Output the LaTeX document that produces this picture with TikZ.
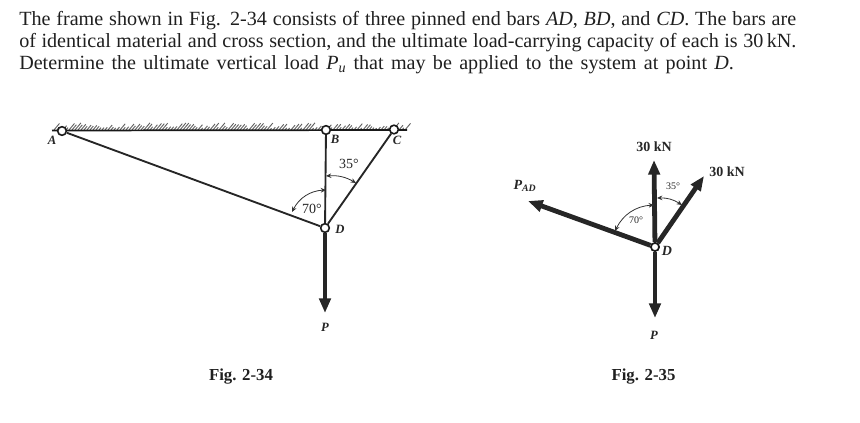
\documentclass[tikz,border=0pt]{standalone}
\usepackage{fontspec}
\setmainfont{Liberation Serif}
\usetikzlibrary{arrows.meta}
\tikzset{
  txt/.style={anchor=base west,inner sep=0pt,text=black!88,font=\fontsize{15.1}{17}\selectfont},
  lbl/.style={inner sep=0pt,text=black!85,font=\fontsize{10.5}{12}\selectfont},
  ital/.style={inner sep=0pt,text=black!85,font=\itshape\bfseries\fontsize{9.5}{11}\selectfont},
  kn/.style={inner sep=0pt,text=black!85,font=\bfseries\fontsize{10.5}{12}\selectfont},
  small/.style={inner sep=0pt,text=black!85,font=\fontsize{7.5}{9}\selectfont},
  figlbl/.style={inner sep=0pt,text=black!88,font=\bfseries\fontsize{12.6}{14}\selectfont},
  pin/.style={circle,draw=black!90,fill=white,line width=1.2pt,minimum size=6.5pt,inner sep=0pt},
  bar/.style={draw=black!85,line width=1.4pt},
  force/.style={draw=black!85,line width=3.6pt,-{Triangle[length=11pt,width=8.5pt]}},
  dim/.style={draw=black!80,line width=.6pt,{Stealth[length=4pt,width=3.5pt]}-{Stealth[length=4pt,width=3.5pt]}},
  hatch/.style={draw=black!62,line width=.7pt}
}
\begin{document}
\begin{tikzpicture}[x=.75pt,y=-.75pt]
\useasboundingbox (0,0) rectangle (860,423);
% problem statement
\node[txt] (l1) at (19,26) {\makebox[582.75pt][s]{The frame shown in Fig. 2-34 consists of three pinned end bars \textit{AD}, \textit{BD}, and \textit{CD}. The bars are}};
\node[txt] (l2) at (19,48) {\makebox[582.75pt][s]{of identical material and cross section, and the ultimate load-carrying capacity of each is 30\,kN.}};
\node[txt] (l3) at (19,70) {\makebox[536pt][s]{Determine the ultimate vertical load \textit{P}\textsubscript{\textit{u}} that may be applied to the system at point \textit{D}.}};
% ceiling
\pgfmathsetseed{7}
\foreach \x in {54,57,...,405} {
  \pgfmathsetmacro{\hh}{1.5+4.5*rnd}
  \draw[hatch] (\x,130) -- (\x+\hh,130-1.2*\hh);
}
\draw[draw=black!90,line width=1.3pt] (52,130.5) -- (407,130);
% frame
\node[pin] (A) at (62,131) {};
\node[pin] (B) at (326,130) {};
\node[pin] (C) at (394,129.5) {};
\node[pin] (D) at (325,228) {};
\coordinate (Ptip) at (325,313);
\draw[bar] (A) -- (D);
\draw[bar] (B) -- (D);
\draw[bar] (C) -- (D);
\draw[force] (D) -- (Ptip);
\node[ital] (la) at (52,140) {A};
\node[ital] (lb) at (335,139) {B};
\node[ital] (lc) at (397,140) {C};
\node[ital] (ld) at (340,229) {D};
\node[ital] (lp) at (325,327) {P};
\node[lbl] (a35) at (349,164) {35°};
\node[lbl] (a70) at (312,209) {70°};
\coordinate (a1) at (326,176);
\coordinate (a2) at (356,183);
\coordinate (a3) at (292,212);
\coordinate (a4) at (326,190);
\draw[dim] (a1) to[bend left=17] (a2);
\draw[dim] (a3) to[bend left=30] (a4);
\node[figlbl] (f1) at (241,377) {Fig. 2-34};
% free body
\coordinate (U) at (654,160);
\coordinate (R) at (704,176);
\coordinate (L) at (528,201);
\coordinate (Q) at (655,318);
\node[pin,minimum size=6pt] (E) at (655,247) {};
\draw[force] (E) -- (U);
\draw[force] (E) -- (R);
\draw[force] (E) -- (L);
\draw[force] (E) -- (Q);
\node[pin,minimum size=6pt] (E2) at (655,247) {};
\node[kn] (u1) at (654,147) {30 kN};
\node[kn] (u2) at (727,172) {30 kN};
\node[ital,font=\itshape\bfseries\fontsize{10.5}{12}\selectfont] (pad) at (525,186) {P\textsubscript{\textit{AD}}};
\node[ital,font=\itshape\bfseries\fontsize{10.5}{12}\selectfont] (le) at (667,251) {D};
\node[ital] (lq) at (654,335) {P};
\node[small] (b35) at (673,186) {35°};
\node[small] (b70) at (636,220) {70°};
\coordinate (b1) at (657,198);
\coordinate (b2) at (682,205);
\coordinate (b3) at (615,231);
\coordinate (b4) at (654,205);
\draw[dim] (b1) to[bend left=17] (b2);
\draw[dim] (b3) to[bend left=30] (b4);
\node[figlbl] (f2) at (643.5,377) {Fig. 2-35};
\end{tikzpicture}
\end{document}
